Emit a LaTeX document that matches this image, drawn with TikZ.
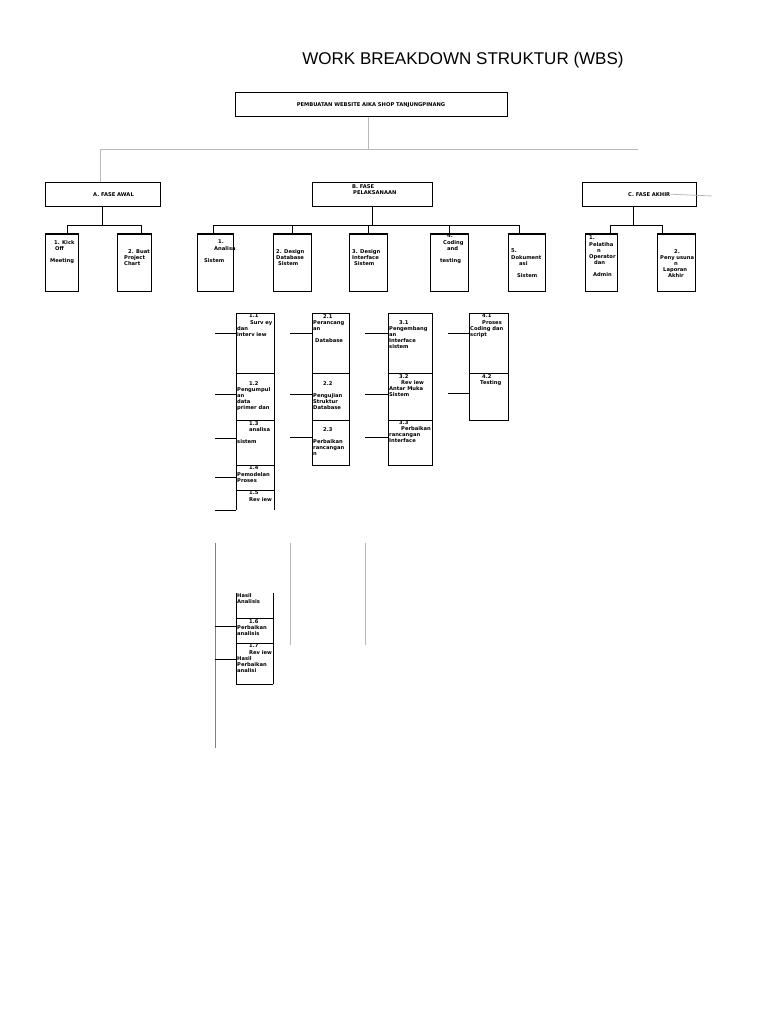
\documentclass[tikz,border=0pt]{standalone}
\usepackage{fontspec}
\setmainfont{DejaVu Sans}
\newfontfamily\titlefont{Liberation Sans}
\begin{document}
\begin{tikzpicture}[x=1pt,y=-1pt,
  bx/.style={draw,line width=1pt},
  tx/.style={font=\fontsize{5.2}{6.2}\selectfont\bfseries,align=left,inner sep=0pt,anchor=north west},
  ln/.style={line width=0.8pt},
  gl/.style={draw=gray!55,line width=0.8pt}]
\useasboundingbox (0,0) rectangle (768,1024);
\node[font=\titlefont\fontsize{17}{20}\selectfont] (title) at (463,60) {WORK BREAKDOWN STRUKTUR (WBS)};
% root
\draw[bx] (235,93) rectangle (507,117);
\node[tx,anchor=center] (root) at (371,105) {PEMBUATAN WEBSITE AIKA SHOP TANJUNGPINANG};
\coordinate (rb) at (368,117); \coordinate (rj) at (368,149);
\coordinate (gl1) at (100,149); \coordinate (gl2) at (638,149); \coordinate (ga) at (100,183);
\draw[gl] (rb)--(rj); \draw[gl] (gl1)--(gl2); \draw[gl] (gl1)--(ga);
% phases
\draw[bx] (45,183) rectangle (160,207); \node[tx] (A) at (93,192) {A. FASE AWAL};
\draw[bx] (312,183) rectangle (432,207); \node[tx] (B) at (352,184) {B. FASE\\\hspace*{1pt}PELAKSANAAN};
\draw[bx] (582,183) rectangle (696,207); \node[tx] (C) at (628,192) {C. FASE AKHIR};
\coordinate (ce) at (712,196); \draw[gl] (C.east)--(ce);
% A children
\draw[ln] (102,207)--(102,225) (67,225)--(141,225) (67,225)--(67,234) (141,225)--(141,234);
\draw[bx] (45,234) rectangle (78,291); \node[tx] (a1) at (50,240) {\hspace*{4pt}1. Kick\\\hspace*{5pt}Off\\[6pt]Meeting};
\draw[bx] (117,234) rectangle (151,291); \node[tx] (a2) at (124,249) {\hspace*{4pt}2. Buat\\Project\\Chart};
% B children
\draw[ln] (372,207)--(372,225) (213,225)--(519,225);
\foreach \x in {213,292,368,449,519} \draw[ln] (\x,225)--(\x,234);
\draw[bx] (197,234) rectangle (233,291); \node[tx] (b1) at (204,240) {\hspace*{14pt}1.\\\hspace*{10pt}Analisa\\[6pt]Sistem};
\draw[bx] (273,234) rectangle (311,291); \node[tx] (b2) at (276,249) {2. Design\\Database\\\hspace*{2pt}Sistem};
\draw[bx] (349,234) rectangle (387,291); \node[tx] (b3) at (352,249) {3. Design\\Interface\\\hspace*{2pt}Sistem};
\draw[bx] (430,234) rectangle (468,291); \node[tx] (b4) at (437,234) {\hspace*{10pt}4.\\\hspace*{6pt}Coding\\\hspace*{10pt}and\\[6pt]\hspace*{3pt}testing};
\draw[bx] (508,234) rectangle (545,291); \node[tx] (b5) at (511,249) {5.\\Dokument\\\hspace*{8pt}asi\\[6pt]\hspace*{6pt}Sistem};
% C children
\draw[ln] (633,207)--(633,225) (610,225)--(662,225) (610,225)--(610,234) (662,225)--(662,234);
\draw[bx] (585,234) rectangle (617,291); \node[tx] (c1) at (589,236) {1.\\Pelatiha\\\hspace*{8pt}n\\Operator\\\hspace*{5pt}dan\\[6pt]\hspace*{4pt}Admin};
\draw[bx] (657,234) rectangle (695,291); \node[tx] (c2) at (660,249) {\hspace*{14pt}2.\\Peny usuna\\\hspace*{14pt}n\\\hspace*{3pt}Laporan\\\hspace*{8pt}Akhir};
% column 1
\draw[bx] (236,313) rectangle (274,373); \node[tx] (s11) at (237,314) {\hspace*{12pt}1.1\\\hspace*{13pt}Surv ey\\dan\\interv iew};
\draw[bx] (236,373) rectangle (274,420); \node[tx] (s12) at (237,381) {\hspace*{12pt}1.2\\Pengumpul\\an\\data\\primer dan};
\draw[bx] (236,420) rectangle (274,465); \node[tx] (s13) at (237,421) {\hspace*{12pt}1.3\\\hspace*{12pt}analisa\\[6pt]sistem};
\draw[bx] (236,465) rectangle (274,490); \node[tx] (s14) at (237,466) {\hspace*{12pt}1.4\\Pemodelan\\Proses};
\draw[ln] (236,490)--(236,510) (274,490)--(274,510) (236,490)--(274,490);
\node[tx] (s15) at (237,491) {\hspace*{12pt}1.5\\\hspace*{12pt}Rev iew};
\foreach \y in {333,394,438,477,510} \draw[ln] (215,\y)--(236,\y);
\coordinate (v1a) at (215,543); \coordinate (v1b) at (215,748); \draw[gl,draw=gray] (v1a)--(v1b);
\draw[ln] (236,593)--(236,684) (273,593)--(273,684);
\node[tx] (ha) at (237,593) {Hasil\\Analisis};
\draw[ln] (236,618)--(273,618) (236,643)--(273,643) (236,684)--(273,684);
\node[tx] (s16) at (237,619) {\hspace*{12pt}1.6\\Perbaikan\\analisis};
\node[tx] (s17) at (237,644) {\hspace*{12pt}1.7\\\hspace*{12pt}Rev iew\\Hasil\\Perbaikan\\analisi};
\draw[ln] (215,626)--(236,626) (215,659)--(236,659);
% column 2
\draw[bx] (312,313) rectangle (349,373); \node[tx] (s21) at (313,314) {\hspace*{10pt}2.1\\Perancang\\an\\[6pt]\hspace*{2pt}Database};
\draw[bx] (312,373) rectangle (349,420); \node[tx] (s22) at (313,381) {\hspace*{10pt}2.2\\[6pt]Pengujian\\Struktur\\Database};
\draw[bx] (312,420) rectangle (349,465); \node[tx] (s23) at (313,427) {\hspace*{10pt}2.3\\[6pt]Perbaikan\\rancangan\\n};
\foreach \y in {333,394,437} \draw[ln] (290,\y)--(312,\y);
\coordinate (v2a) at (290,543); \coordinate (v2b) at (290,645); \draw[gl] (v2a)--(v2b);
% column 3
\draw[bx] (388,313) rectangle (432,373); \node[tx] (s31) at (389,320) {\hspace*{10pt}3.1\\Pengembang\\an\\Interface\\sistem};
\draw[bx] (388,373) rectangle (432,420); \node[tx] (s32) at (389,374) {\hspace*{10pt}3.2\\\hspace*{12pt}Rev iew\\Antar Muka\\Sistem};
\draw[bx] (388,420) rectangle (432,465); \node[tx] (s33) at (389,420) {\hspace*{10pt}3.3\\\hspace*{12pt}Perbaikan\\rancangan\\Interface};
\foreach \y in {333,394,437} \draw[ln] (365,\y)--(388,\y);
\coordinate (v3a) at (365,543); \coordinate (v3b) at (365,645); \draw[gl] (v3a)--(v3b);
% column 4
\draw[bx] (469,313) rectangle (508,373); \node[tx] (s41) at (470,314) {\hspace*{12pt}4.1\\\hspace*{12pt}Proses\\Coding dan\\script};
\draw[bx] (469,373) rectangle (508,420); \node[tx] (s42) at (470,374) {\hspace*{12pt}4.2\\\hspace*{10pt}Testing};
\foreach \y in {333,393} \draw[ln] (448,\y)--(469,\y);
\end{tikzpicture}
\end{document}
